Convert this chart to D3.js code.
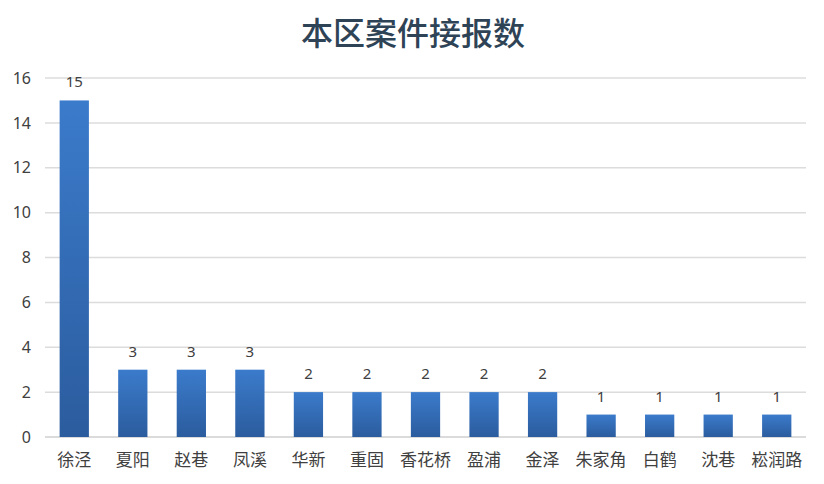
<!DOCTYPE html>
<html><head><meta charset="utf-8">
<script src="https://cdn.jsdelivr.net/npm/d3@7"></script>
<style>body{margin:0;background:#fff}svg{display:block}</style>
</head><body>
<script>
const categories = ["徐泾","夏阳","赵巷","凤溪","华新","重固","香花桥","盈浦","金泽","朱家角","白鹤","沈巷","崧润路"];
const values = [15,3,3,3,2,2,2,2,2,1,1,1,1];
const yTicks = [0,2,4,6,8,10,12,14,16];
const title = "本区案件接报数";

(function(){
const W=824,H=484;
const svg=d3.select("body").append("svg").attr("width",W).attr("height",H);
const defs=svg.append("defs");
const g=defs.append("linearGradient").attr("id","bg").attr("x1",0).attr("y1",0).attr("x2",0).attr("y2",1);
g.append("stop").attr("offset","0%").attr("stop-color","#3b7bcb");
g.append("stop").attr("offset","100%").attr("stop-color","#2b5c9e");

const mLeft=45,mRight=806,mTop=78,mBottom=437;
const x=d3.scaleBand().domain(categories).range([mLeft,mRight]).paddingInner(0.5).paddingOuter(0.25);
const y=d3.scaleLinear().domain([0,16]).range([mBottom,mTop]);

svg.append("g").selectAll("line").data(yTicks).join("line")
 .attr("x1",mLeft).attr("x2",mRight).attr("y1",d=>y(d)).attr("y2",d=>y(d))
 .attr("stroke",d=>d===0?"#cfcfcf":"#dcdcdc").attr("stroke-width",1.5);

const ya=svg.append("g").attr("transform",`translate(${mLeft},0)`)
 .call(d3.axisLeft(y).tickValues(yTicks).tickSize(0).tickPadding(14));
ya.select(".domain").remove();
ya.selectAll("text").attr("font-family","Noto Sans, sans-serif").attr("font-size",16).attr("fill","#404040");

svg.append("g").selectAll("rect").data(values).join("rect")
 .attr("x",(d,i)=>x(categories[i])).attr("width",x.bandwidth())
 .attr("y",d=>y(d)).attr("height",d=>y(0)-y(d)).attr("fill","url(#bg)");

svg.append("g").selectAll("text").data(values).join("text")
 .attr("x",(d,i)=>x(categories[i])+x.bandwidth()/2).attr("y",d=>y(d)-13)
 .attr("text-anchor","middle").attr("font-family","Noto Sans, sans-serif").attr("font-size",15).attr("fill","#404040")
 .text(d=>d);

const xa=svg.append("g").attr("transform",`translate(0,${mBottom})`)
 .call(d3.axisBottom(x).tickSize(0).tickPadding(17));
xa.select(".domain").remove();
xa.selectAll("text").attr("font-family","Noto Sans CJK SC, sans-serif").attr("font-size",17).attr("fill","#404040");

svg.append("text").attr("x",413).attr("y",45).attr("text-anchor","middle")
 .attr("font-family","Noto Sans CJK SC, sans-serif").attr("font-size",32).attr("font-weight",500).attr("fill","#2e4356").text(title);
})();
</script>
</body></html>
